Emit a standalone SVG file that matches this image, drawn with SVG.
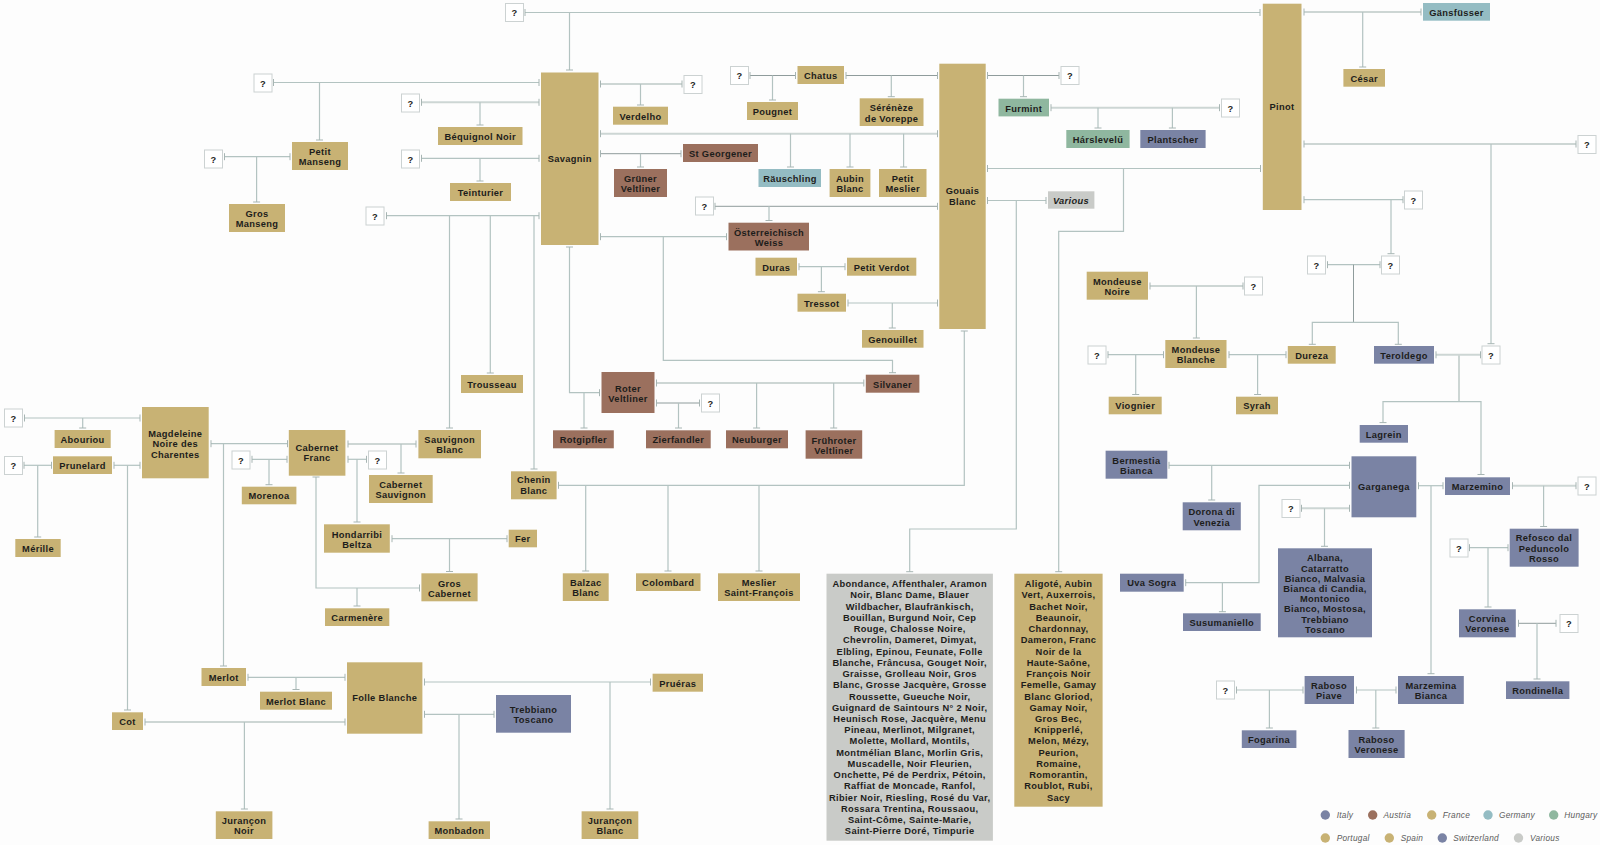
<svg xmlns="http://www.w3.org/2000/svg" width="1600" height="845" viewBox="0 0 1600 845">
<style>
text{font-family:"Liberation Sans",Arial,sans-serif;font-weight:700;font-size:9.3px;fill:#1d1d1b;text-anchor:middle;letter-spacing:.35px}
.lg text{font-weight:400;font-style:italic;font-size:8.3px;fill:#5c5c5c;text-anchor:start;letter-spacing:.25px}
.fr{fill:#c8b274}.at{fill:#9b705e}.it{fill:#7a83a4}.de{fill:#94bcc3}.hu{fill:#8fb79f}.va{fill:#c9cbc8}
.q{fill:#fff;stroke:#ccd2d2;stroke-width:1}
#connectors path{fill:none;stroke:#b3c3c1;stroke-width:1.2;marker-end:url(#t)}
#connectors path.s{marker-start:url(#t)}
#connectors path.p{stroke:#cdd6d4;stroke-width:2}
#connectors path.d{stroke:#8f9c9c;stroke-width:1}
</style>
<defs>
<marker id="t" viewBox="-1 -4 2 8" refX="0" refY="0" markerWidth="2" markerHeight="8" markerUnits="userSpaceOnUse" orient="auto"><path d="M0-3.5V3.5" stroke="#a7b5b3" stroke-width="1" fill="none"/></marker>
</defs>
<rect width="1600" height="845" fill="#fdfdfd"/>
<g id="connectors">
<path class="s" d="M525 12.5H1260"/><path d="M569.5 12.5V70"/>
<path class="s" d="M273.5 82.5H539"/><path d="M319.5 82.5V140"/>
<path class="s" d="M224.5 156.7H290"/><path d="M256.6 156.7V202"/>
<path class="s p" d="M421.5 102.3H539"/><path d="M480 102.3V125"/>
<path class="s" d="M421.5 158.3H539"/><path d="M480 158.3V181"/>
<path class="s" d="M386.5 215.7H539"/><path d="M449.5 215.7V428"/><path d="M490.3 215.7V373"/><path d="M534 215.7V469"/>
<path class="s p" d="M600.5 84H682"/><path d="M640.5 84V105"/>
<path class="s p" d="M600.5 133.7H937.5"/><path d="M790.5 133.7V167"/><path d="M850 133.7V167"/><path d="M903.6 133.7V167"/>
<path class="s d" d="M600.5 153.7H681"/><path d="M640.5 153.7V167"/>
<path class="s d" d="M750 75.5H795.5"/><path d="M772.5 75.5V100"/>
<path class="s d" d="M846 75.5H937.5"/><path d="M891.3 75.5V96.7"/>
<path class="s d" d="M715 206.3H937.5"/><path d="M769 206.3V220.5"/>
<path class="s" d="M600.5 236.7H726.5"/><path d="M663.3 236.7V360.3H892.5V372.7"/>
<path class="s" d="M799 266.7H845"/><path d="M821.4 266.7V291.7"/>
<path class="s" d="M848 303H937.5"/><path d="M892.3 303V328"/>
<path class="s" d="M964.3 331V485.3H558.5"/><path d="M585.7 485.3V571"/><path d="M668 485.3V571"/><path d="M759 485.3V571"/>
<path class="s" d="M569.5 247V392.7H599.5"/><path d="M584 392.7V428"/>
<path class="s p" d="M656.5 383H863.8"/><path d="M756.6 383V428"/><path d="M833.7 383V428"/>
<path class="s d" d="M656.5 403H699.5"/><path d="M678.5 403V428"/>
<path class="s" d="M24.5 418H140"/><path d="M82.7 418V428"/>
<path class="s" d="M24 465.3H51.5"/><path d="M37.7 465.3V537"/>
<path class="s" d="M114 465.3H140"/><path d="M127.5 465.3V710"/>
<path class="s" d="M211 443.7H287.5"/><path d="M223.5 443.7V666"/>
<path class="s" d="M252 459.3H287"/><path d="M269 459.3V484.7"/>
<path class="s p" d="M348 444H416"/><path d="M401 444V473"/>
<path class="s" d="M348 459.3H366.5"/><path d="M357 459.3V522"/>
<path class="s" d="M392 538.7H507"/><path d="M449.5 538.7V571.5"/>
<path class="s" d="M316 477V588H419.5"/><path d="M357 588V606"/>
<path class="s" d="M248 677.3H345"/><path d="M296 677.3V689.5"/>
<path class="s p" d="M145 722H345"/><path d="M244.4 722V809"/>
<path class="s" d="M424.5 682H650.5"/><path d="M610 682V809"/>
<path class="s" d="M424.5 714.3H494"/><path d="M459 714.3V819"/>
<path class="s d" d="M987.5 75.5H1059"/><path d="M1023.5 75.5V96.7"/>
<path class="s p" d="M1051 107.7H1219.5"/><path d="M1098 107.7V128"/><path d="M1172.4 107.7V128"/>
<path class="s p" d="M1304 12H1421"/><path d="M1362.7 12V67"/>
<path class="s p" d="M1304 144H1576"/><path d="M1491 144V343.7"/>
<path class="s" d="M1304 199.7H1403"/><path d="M1391 199.7V253.7"/>
<path class="s" d="M987.5 168.5H1260.5"/><path d="M1123.5 168.5V231.3H1058.7V571.7"/>
<path class="s" d="M987.5 200.5H1046"/><path d="M1016.3 200.5V529H909.7V571.7"/>
<path class="s p" d="M1150 286H1243"/><path d="M1196.4 286V338"/>
<path class="s" d="M1108 354.7H1163.5"/><path d="M1135.7 354.7V394.5"/>
<path class="s" d="M1229 354.7H1286"/><path d="M1257.6 354.7V394.5"/>
<path class="s" d="M1327.5 264.7H1380"/><path class="d" style="marker-end:none" d="M1353.5 264.7V322.4"/>
<path class="s" d="M1312.3 344.3V322.4H1398.3V344.3"/>
<path class="s p" d="M1436 354.8H1480.5"/><path class="p" style="marker-end:none" d="M1459 354.8V401.7"/>
<path class="s" d="M1383 422.6V401.7H1481V474.5"/>
<path class="s" d="M1169 465.3H1349.5"/><path d="M1211.7 465.3V500"/>
<path class="s" d="M1185.7 582.7H1259V485.3H1349.5"/><path d="M1222.4 582.7V611.7"/>
<path class="s p" d="M1301.5 508.3H1349.5"/><path d="M1324.5 508.3V546.3"/>
<path class="s" d="M1418.5 485.7H1443"/><path d="M1431 485.7V673.7"/>
<path class="s p" d="M1512.5 485.7H1576"/><path d="M1543.6 485.7V526.5"/>
<path class="s" d="M1469.5 547.7H1508"/><path d="M1488 547.7V607"/>
<path class="s d" d="M1518.5 623.3H1556"/><path d="M1537 623.3V679"/>
<path class="s" d="M1236.5 690H1303"/><path d="M1269.4 690V728"/>
<path class="s" d="M1356.5 690H1396"/><path d="M1375.8 690V728"/>
</g>
<g id="q-top"><rect class="q" x="505.5" y="3.5" width="18" height="18"/><text x="514.5" y="16">?</text></g>
<g id="q-a"><rect class="q" x="254" y="74" width="18" height="18"/><text x="263" y="86.5">?</text></g>
<g id="q-b"><rect class="q" x="204.5" y="150" width="18" height="18"/><text x="213.5" y="162.5">?</text></g>
<g id="q-c"><rect class="q" x="401.5" y="94" width="18" height="18"/><text x="410.5" y="106.5">?</text></g>
<g id="q-d"><rect class="q" x="401.5" y="150" width="18" height="18"/><text x="410.5" y="162.5">?</text></g>
<g id="q-e"><rect class="q" x="366" y="207" width="18" height="18"/><text x="375" y="219.5">?</text></g>
<g id="q-f"><rect class="q" x="684" y="75.5" width="18" height="18"/><text x="693" y="88">?</text></g>
<g id="q-g"><rect class="q" x="730.5" y="66.5" width="18" height="18"/><text x="739.5" y="79">?</text></g>
<g id="q-h"><rect class="q" x="695.5" y="197" width="18" height="18"/><text x="704.5" y="209.5">?</text></g>
<g id="q-i"><rect class="q" x="701.5" y="394" width="18" height="18"/><text x="710.5" y="406.5">?</text></g>
<g id="q-j"><rect class="q" x="4.5" y="409" width="18" height="18"/><text x="13.5" y="421.5">?</text></g>
<g id="q-k"><rect class="q" x="4.5" y="456.5" width="18" height="18"/><text x="13.5" y="469">?</text></g>
<g id="q-l"><rect class="q" x="232" y="451" width="18" height="18"/><text x="241" y="463.5">?</text></g>
<g id="q-m"><rect class="q" x="368.5" y="451" width="18" height="18"/><text x="377.5" y="463.5">?</text></g>
<g id="q-n"><rect class="q" x="1061" y="66.5" width="18" height="18"/><text x="1070" y="79">?</text></g>
<g id="q-o"><rect class="q" x="1221.5" y="99" width="18" height="18"/><text x="1230.5" y="111.5">?</text></g>
<g id="q-p"><rect class="q" x="1578" y="135.5" width="18" height="18"/><text x="1587" y="148">?</text></g>
<g id="q-q"><rect class="q" x="1404.5" y="191" width="18" height="18"/><text x="1413.5" y="203.5">?</text></g>
<g id="q-r"><rect class="q" x="1307.5" y="256" width="18" height="18"/><text x="1316.5" y="268.5">?</text></g>
<g id="q-s"><rect class="q" x="1381.5" y="256" width="18" height="18"/><text x="1390.5" y="268.5">?</text></g>
<g id="q-t"><rect class="q" x="1244.5" y="277" width="18" height="18"/><text x="1253.5" y="289.5">?</text></g>
<g id="q-u"><rect class="q" x="1088" y="346" width="18" height="18"/><text x="1097" y="358.5">?</text></g>
<g id="q-v"><rect class="q" x="1482" y="346" width="18" height="18"/><text x="1491" y="358.5">?</text></g>
<g id="q-w"><rect class="q" x="1578" y="477" width="18" height="18"/><text x="1587" y="489.5">?</text></g>
<g id="q-x"><rect class="q" x="1282" y="499.5" width="18" height="18"/><text x="1291" y="512">?</text></g>
<g id="q-y"><rect class="q" x="1450" y="539" width="18" height="18"/><text x="1459" y="551.5">?</text></g>
<g id="q-z"><rect class="q" x="1560" y="614.5" width="18" height="18"/><text x="1569" y="627">?</text></g>
<g id="q-aa"><rect class="q" x="1216.5" y="681" width="18" height="18"/><text x="1225.5" y="693.5">?</text></g>

<g id="savagnin"><rect class="fr" x="541" y="72.5" width="57.5" height="172.5"/><text x="569.7" y="162.3">Savagnin</text></g>
<g id="petit-manseng"><rect class="fr" x="292" y="142" width="56" height="28"/><text x="320" y="155">Petit<tspan x="320" dy="10.4">Manseng</tspan></text></g>
<g id="gros-manseng"><rect class="fr" x="229" y="204" width="56" height="28"/><text x="257" y="217">Gros<tspan x="257" dy="10.4">Manseng</tspan></text></g>
<g id="bequignol"><rect class="fr" x="438" y="127" width="84.5" height="18"/><text x="480.2" y="140">Béquignol Noir</text></g>
<g id="teinturier"><rect class="fr" x="450" y="183" width="61" height="18"/><text x="480.5" y="196">Teinturier</text></g>
<g id="trousseau"><rect class="fr" x="461" y="375" width="62" height="18"/><text x="492" y="388">Trousseau</text></g>
<g id="verdelho"><rect class="fr" x="613" y="106.7" width="55" height="18"/><text x="640.5" y="119.5">Verdelho</text></g>
<g id="pougnet"><rect class="fr" x="747" y="102" width="51" height="18"/><text x="772.5" y="115">Pougnet</text></g>
<g id="st-georgener"><rect class="at" x="683" y="144" width="75" height="18"/><text x="720.5" y="157">St Georgener</text></g>
<g id="gruner"><rect class="at" x="614" y="169" width="53" height="28"/><text x="640.5" y="182">Grüner<tspan x="640.5" dy="10.4">Veltliner</tspan></text></g>
<g id="rauschling"><rect class="de" x="758.5" y="169" width="62.5" height="18"/><text x="790" y="182">Räuschling</text></g>
<g id="osterreichisch"><rect class="at" x="728.5" y="222.7" width="80.5" height="27.8"/><text x="769" y="235.5">Österreichisch<tspan x="769" dy="10.4">Weiss</tspan></text></g>
<g id="duras"><rect class="fr" x="755.5" y="257.7" width="41.5" height="18"/><text x="776.2" y="270.5">Duras</text></g>
<g id="roter"><rect class="at" x="601.5" y="372" width="53" height="41"/><text x="628" y="392">Roter<tspan x="628" dy="10.4">Veltliner</tspan></text></g>
<g id="chatus"><rect class="fr" x="797.5" y="66" width="46.5" height="18"/><text x="820.7" y="79">Chatus</text></g>
<g id="sereneze"><rect class="fr" x="859.7" y="98.3" width="63.8" height="27.7"/><text x="891.6" y="110.5">Sérénèze<tspan x="891.6" dy="11">de Voreppe</tspan></text></g>
<g id="aubin-blanc"><rect class="fr" x="829.6" y="169" width="40.8" height="28"/><text x="850" y="181.7">Aubin<tspan x="850" dy="10.5">Blanc</tspan></text></g>
<g id="petit-meslier"><rect class="fr" x="879" y="169" width="47.5" height="28"/><text x="902.7" y="181.7">Petit<tspan x="902.7" dy="10.5">Meslier</tspan></text></g>
<g id="petit-verdot"><rect class="fr" x="847" y="257.7" width="69.3" height="18"/><text x="881.6" y="270.5">Petit Verdot</text></g>
<g id="tressot"><rect class="fr" x="797.5" y="293.7" width="48.5" height="18"/><text x="821.7" y="306.5">Tressot</text></g>
<g id="genouillet"><rect class="fr" x="862" y="330" width="61.5" height="17.7"/><text x="892.7" y="342.8">Genouillet</text></g>
<g id="silvaner"><rect class="at" x="865.8" y="374.7" width="53.6" height="18"/><text x="892.6" y="387.5">Silvaner</text></g>
<g id="gouais"><rect class="fr" x="939.3" y="63.7" width="46.4" height="265.3"/><text x="962.5" y="194">Gouais<tspan x="962.5" dy="11">Blanc</tspan></text></g>
<g id="furmint"><rect class="hu" x="998.5" y="98.7" width="50.5" height="17.7"/><text x="1023.7" y="111.5">Furmint</text></g>
<g id="harslevelu"><rect class="hu" x="1066.3" y="130" width="63.3" height="18"/><text x="1098" y="143">Hárslevelű</text></g>
<g id="plantscher"><rect class="it" x="1140.3" y="130" width="65.3" height="18"/><text x="1173" y="143">Plantscher</text></g>
<g id="pinot"><rect class="fr" x="1262.8" y="3.7" width="38.7" height="206.3"/><text x="1282" y="110">Pinot</text></g>
<g id="gansfusser"><rect class="de" x="1423" y="3" width="67" height="17.7"/><text x="1456.5" y="15.7">Gänsfüsser</text></g>
<g id="cesar"><rect class="fr" x="1343.4" y="69" width="41.6" height="17.7"/><text x="1364.2" y="81.7">César</text></g>
<g id="various-node"><rect class="va" x="1048" y="191.3" width="46.4" height="17.4"/><text x="1071" y="204" style="font-style:italic">Various</text></g>
<g id="mondeuse-noire"><rect class="fr" x="1086.7" y="271.7" width="61.3" height="28"/><text x="1117.3" y="284.5">Mondeuse<tspan x="1117.3" dy="10.4">Noire</tspan></text></g>
<g id="mondeuse-blanche"><rect class="fr" x="1165.3" y="340" width="61.2" height="28"/><text x="1196" y="353">Mondeuse<tspan x="1196" dy="10.4">Blanche</tspan></text></g>
<g id="dureza"><rect class="fr" x="1287.8" y="346" width="47.9" height="17.7"/><text x="1311.7" y="358.7">Dureza</text></g>
<g id="teroldego"><rect class="it" x="1374" y="346" width="60" height="17.7"/><text x="1404" y="358.7">Teroldego</text></g>
<g id="viognier"><rect class="fr" x="1108.7" y="396.7" width="53" height="17.6"/><text x="1135.2" y="409.3">Viognier</text></g>
<g id="syrah"><rect class="fr" x="1236" y="396.7" width="42" height="17.6"/><text x="1257" y="409.3">Syrah</text></g>
<g id="abouriou"><rect class="fr" x="54.6" y="430" width="56.1" height="18"/><text x="82.6" y="443">Abouriou</text></g>
<g id="magdeleine"><rect class="fr" x="142" y="407" width="66.7" height="71.3"/><text x="175.3" y="437">Magdeleine<tspan x="175.3" dy="10.4">Noire des</tspan><tspan x="175.3" dy="10.4">Charentes</tspan></text></g>
<g id="prunelard"><rect class="fr" x="53" y="456.3" width="59" height="17.7"/><text x="82.5" y="469">Prunelard</text></g>
<g id="merille"><rect class="fr" x="15.3" y="539" width="45.4" height="18"/><text x="38" y="552">Mérille</text></g>
<g id="cabernet-franc"><rect class="fr" x="288.8" y="430" width="56.6" height="45.7"/><text x="317" y="451">Cabernet<tspan x="317" dy="10.4">Franc</tspan></text></g>
<g id="sauvignon-blanc"><rect class="fr" x="418.4" y="430" width="62.6" height="28.3"/><text x="449.7" y="443">Sauvignon<tspan x="449.7" dy="10.4">Blanc</tspan></text></g>
<g id="morenoa"><rect class="fr" x="241.8" y="486.7" width="54.6" height="17.6"/><text x="269" y="499.3">Morenoa</text></g>
<g id="cabernet-sauvignon"><rect class="fr" x="369" y="475" width="63.7" height="28"/><text x="400.8" y="488">Cabernet<tspan x="400.8" dy="10.4">Sauvignon</tspan></text></g>
<g id="hondarribi"><rect class="fr" x="324" y="524.3" width="65.8" height="28.4"/><text x="357" y="537.5">Hondarribi<tspan x="357" dy="10">Beltza</tspan></text></g>
<g id="fer"><rect class="fr" x="508.7" y="529.7" width="28.3" height="17.6"/><text x="522.8" y="542.3">Fer</text></g>
<g id="gros-cabernet"><rect class="fr" x="421.4" y="573.3" width="56.2" height="28"/><text x="449.5" y="586.5">Gros<tspan x="449.5" dy="10">Cabernet</tspan></text></g>
<g id="carmenere"><rect class="fr" x="325" y="608.3" width="64.3" height="17.7"/><text x="357.2" y="621">Carmenère</text></g>
<g id="chenin"><rect class="fr" x="511" y="471.3" width="45.6" height="28"/><text x="533.8" y="483.3">Chenin<tspan x="533.8" dy="10.4">Blanc</tspan></text></g>
<g id="rotgipfler"><rect class="at" x="553" y="430.3" width="60.8" height="18"/><text x="583.4" y="443.3">Rotgipfler</text></g>
<g id="zierfandler"><rect class="at" x="646" y="430.3" width="64.7" height="18"/><text x="678.4" y="443.3">Zierfandler</text></g>
<g id="neuburger"><rect class="at" x="726" y="430.3" width="62" height="18"/><text x="757" y="443.3">Neuburger</text></g>
<g id="fruhroter"><rect class="at" x="805.6" y="430.3" width="56.6" height="28.4"/><text x="833.9" y="443.5">Frühroter<tspan x="833.9" dy="10.4">Veltliner</tspan></text></g>
<g id="balzac"><rect class="fr" x="562.8" y="573.3" width="45.9" height="27.7"/><text x="585.7" y="586">Balzac<tspan x="585.7" dy="10.4">Blanc</tspan></text></g>
<g id="colombard"><rect class="fr" x="636" y="573.3" width="64.5" height="17.7"/><text x="668.2" y="586">Colombard</text></g>
<g id="meslier"><rect class="fr" x="718" y="573.3" width="82" height="27.7"/><text x="759" y="586">Meslier<tspan x="759" dy="10.4">Saint-François</tspan></text></g>
<g id="merlot"><rect class="fr" x="201.5" y="668" width="44.5" height="18"/><text x="223.7" y="681">Merlot</text></g>
<g id="folle-blanche"><rect class="fr" x="347" y="662.3" width="75.4" height="71.4"/><text x="384.7" y="701.2">Folle Blanche</text></g>
<g id="merlot-blanc"><rect class="fr" x="260" y="691.7" width="72" height="18"/><text x="296" y="704.5">Merlot Blanc</text></g>
<g id="cot"><rect class="fr" x="112" y="712.3" width="31" height="17.7"/><text x="127.5" y="725">Cot</text></g>
<g id="prueras"><rect class="fr" x="652.6" y="673.7" width="50.4" height="18"/><text x="677.8" y="686.5">Pruéras</text></g>
<g id="trebbiano"><rect class="it" x="496" y="695" width="75" height="37.7"/><text x="533.5" y="712.7">Trebbiano<tspan x="533.5" dy="10">Toscano</tspan></text></g>
<g id="jurancon-noir"><rect class="fr" x="215.8" y="811.3" width="56.6" height="27.7"/><text x="244" y="824">Jurançon<tspan x="244" dy="10.4">Noir</tspan></text></g>
<g id="monbadon"><rect class="fr" x="428.6" y="821.3" width="61.4" height="17.7"/><text x="459.3" y="834">Monbadon</text></g>
<g id="jurancon-blanc"><rect class="fr" x="581.6" y="811.3" width="56.7" height="27.7"/><text x="610" y="824">Jurançon<tspan x="610" dy="10.4">Blanc</tspan></text></g>
<g id="lagrein"><rect class="it" x="1359.7" y="425" width="48.3" height="17.7"/><text x="1383.8" y="437.7">Lagrein</text></g>
<g id="bermestia"><rect class="it" x="1105.6" y="450.7" width="61.7" height="28"/><text x="1136.4" y="463.5">Bermestia<tspan x="1136.4" dy="10.4">Bianca</tspan></text></g>
<g id="garganega"><rect class="it" x="1351.5" y="456.3" width="64.8" height="61"/><text x="1383.9" y="490.2">Garganega</text></g>
<g id="marzemino"><rect class="it" x="1445" y="477.3" width="65" height="17.7"/><text x="1477.5" y="490">Marzemino</text></g>
<g id="dorona"><rect class="it" x="1182.7" y="502.3" width="58.1" height="28"/><text x="1211.7" y="515.3">Dorona di<tspan x="1211.7" dy="10.4">Venezia</tspan></text></g>
<g id="albana"><rect class="it" x="1278" y="548.3" width="94" height="89"/><text x="1325" y="561.3">Albana,<tspan x="1325" dy="10.2">Catarratto</tspan><tspan x="1325" dy="10.2">Bianco, Malvasia</tspan><tspan x="1325" dy="10.2">Bianca di Candia,</tspan><tspan x="1325" dy="10.2">Montonico</tspan><tspan x="1325" dy="10.2">Bianco, Mostosa,</tspan><tspan x="1325" dy="10.2">Trebbiano</tspan><tspan x="1325" dy="10.2">Toscano</tspan></text></g>
<g id="refosco"><rect class="it" x="1509.7" y="528.7" width="68.9" height="38"/><text x="1544" y="541.3">Refosco dal<tspan x="1544" dy="10.3">Peduncolo</tspan><tspan x="1544" dy="10.3">Rosso</tspan></text></g>
<g id="uva-sogra"><rect class="it" x="1120" y="573.7" width="63.7" height="18"/><text x="1151.8" y="586.3">Uva Sogra</text></g>
<g id="susumaniello"><rect class="it" x="1183" y="613.3" width="77.7" height="17.7"/><text x="1221.8" y="626">Susumaniello</text></g>
<g id="corvina"><rect class="it" x="1459" y="609.3" width="56.8" height="28"/><text x="1487.4" y="621.8">Corvina<tspan x="1487.4" dy="10.4">Veronese</tspan></text></g>
<g id="rondinella"><rect class="it" x="1506" y="681.3" width="63.4" height="17.7"/><text x="1537.7" y="694">Rondinella</text></g>
<g id="raboso-piave"><rect class="it" x="1304.6" y="676" width="49.4" height="28"/><text x="1329" y="688.5">Raboso<tspan x="1329" dy="10.4">Piave</tspan></text></g>
<g id="marzemina"><rect class="it" x="1398" y="676" width="65.8" height="28"/><text x="1431" y="688.5">Marzemina<tspan x="1431" dy="10.4">Bianca</tspan></text></g>
<g id="fogarina"><rect class="it" x="1241.8" y="730.3" width="54.6" height="17.7"/><text x="1269" y="743">Fogarina</text></g>
<g id="raboso-veronese"><rect class="it" x="1348.5" y="730" width="56.1" height="28"/><text x="1376.5" y="742.5">Raboso<tspan x="1376.5" dy="10.4">Veronese</tspan></text></g>
<g id="various-list"><rect class="va" x="826.5" y="573.7" width="166.4" height="267"/><text x="909.7" y="587.2">Abondance, Affenthaler, Aramon<tspan x="909.7" dy="11.23">Noir, Blanc Dame, Blauer</tspan><tspan x="909.7" dy="11.23">Wildbacher, Blaufränkisch,</tspan><tspan x="909.7" dy="11.23">Bouillan, Burgund Noir, Cep</tspan><tspan x="909.7" dy="11.23">Rouge, Chalosse Noire,</tspan><tspan x="909.7" dy="11.23">Chevrolin, Dameret, Dimyat,</tspan><tspan x="909.7" dy="11.23">Elbling, Epinou, Feunate, Folle</tspan><tspan x="909.7" dy="11.23">Blanche, Frâncusa, Gouget Noir,</tspan><tspan x="909.7" dy="11.23">Graisse, Grolleau Noir, Gros</tspan><tspan x="909.7" dy="11.23">Blanc, Grosse Jacquère, Grosse</tspan><tspan x="909.7" dy="11.23">Roussette, Gueuche Noir,</tspan><tspan x="909.7" dy="11.23">Guignard de Saintours N° 2 Noir,</tspan><tspan x="909.7" dy="11.23">Heunisch Rose, Jacquère, Menu</tspan><tspan x="909.7" dy="11.23">Pineau, Merlinot, Milgranet,</tspan><tspan x="909.7" dy="11.23">Molette, Mollard, Montils,</tspan><tspan x="909.7" dy="11.23">Montmélian Blanc, Morlin Gris,</tspan><tspan x="909.7" dy="11.23">Muscadelle, Noir Fleurien,</tspan><tspan x="909.7" dy="11.23">Onchette, Pé de Perdrix, Pétoin,</tspan><tspan x="909.7" dy="11.23">Raffiat de Moncade, Ranfol,</tspan><tspan x="909.7" dy="11.23">Ribier Noir, Riesling, Rosé du Var,</tspan><tspan x="909.7" dy="11.23">Rossara Trentina, Roussaou,</tspan><tspan x="909.7" dy="11.23">Saint-Côme, Sainte-Marie,</tspan><tspan x="909.7" dy="11.23">Saint-Pierre Doré, Timpurie</tspan></text></g>
<g id="france-list"><rect class="fr" x="1014.3" y="573.7" width="88.3" height="233"/><text x="1058.5" y="587.2">Aligoté, Aubin<tspan x="1058.5" dy="11.23">Vert, Auxerrois,</tspan><tspan x="1058.5" dy="11.23">Bachet Noir,</tspan><tspan x="1058.5" dy="11.23">Beaunoir,</tspan><tspan x="1058.5" dy="11.23">Chardonnay,</tspan><tspan x="1058.5" dy="11.23">Dameron, Franc</tspan><tspan x="1058.5" dy="11.23">Noir de la</tspan><tspan x="1058.5" dy="11.23">Haute-Saône,</tspan><tspan x="1058.5" dy="11.23">François Noir</tspan><tspan x="1058.5" dy="11.23">Femelle, Gamay</tspan><tspan x="1058.5" dy="11.23">Blanc Gloriod,</tspan><tspan x="1058.5" dy="11.23">Gamay Noir,</tspan><tspan x="1058.5" dy="11.23">Gros Bec,</tspan><tspan x="1058.5" dy="11.23">Knipperlé,</tspan><tspan x="1058.5" dy="11.23">Melon, Mézy,</tspan><tspan x="1058.5" dy="11.23">Peurion,</tspan><tspan x="1058.5" dy="11.23">Romaine,</tspan><tspan x="1058.5" dy="11.23">Romorantin,</tspan><tspan x="1058.5" dy="11.23">Roublot, Rubi,</tspan><tspan x="1058.5" dy="11.23">Sacy</tspan></text></g>
<g id="legend" class="lg">
<circle cx="1325.3" cy="815" r="4.7" class="it"/><text x="1336.7" y="818.3">Italy</text>
<circle cx="1372.7" cy="815" r="4.7" class="at"/><text x="1383.5" y="818.3">Austria</text>
<circle cx="1431.7" cy="815" r="4.7" class="fr"/><text x="1442.7" y="818.3">France</text>
<circle cx="1488" cy="815" r="4.7" class="de"/><text x="1499" y="818.3">Germany</text>
<circle cx="1553.7" cy="815" r="4.7" class="hu"/><text x="1564.3" y="818.3">Hungary</text>
<circle cx="1325.3" cy="838" r="4.7" class="fr"/><text x="1336.7" y="841.3">Portugal</text>
<circle cx="1389.3" cy="838" r="4.7" class="fr"/><text x="1400.7" y="841.3">Spain</text>
<circle cx="1442.3" cy="838" r="4.7" class="it"/><text x="1453.3" y="841.3">Switzerland</text>
<circle cx="1518.5" cy="838" r="4.7" class="va"/><text x="1530" y="841.3">Various</text>
</g>
</svg>
